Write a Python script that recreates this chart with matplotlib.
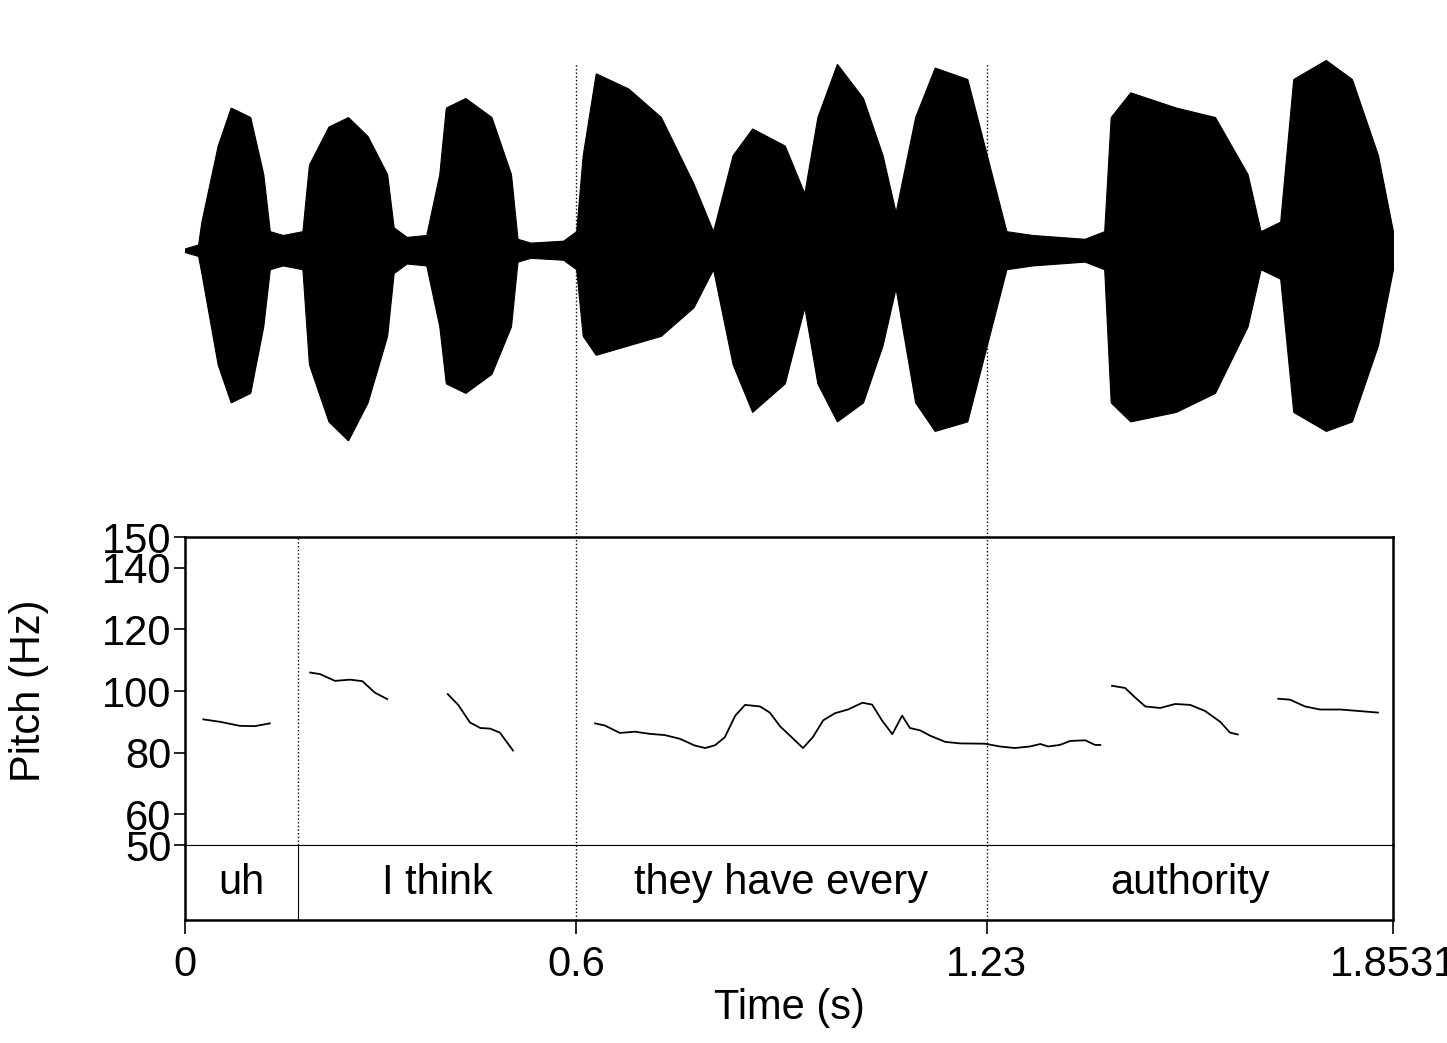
import matplotlib
matplotlib.use("Agg")
import matplotlib.pyplot as plt
import matplotlib.transforms as mtransforms
from matplotlib.lines import Line2D
import numpy as np

plt.rcParams['font.family'] = ['Liberation Sans', 'DejaVu Sans']

T_END = 1.8531
# waveform amplitude envelope (time s, upper, lower)
env_t = [0.0, 0.02, 0.025, 0.05, 0.07, 0.10, 0.12, 0.13, 0.15, 0.18, 0.19, 0.22, 0.25, 0.28, 0.31, 0.32, 0.34, 0.37, 0.39, 0.40, 0.43, 0.47, 0.50, 0.51,
         0.53, 0.58, 0.60, 0.61, 0.63, 0.68, 0.73, 0.78, 0.81, 0.84, 0.87, 0.92, 0.95, 0.97, 1.00, 1.04, 1.07, 1.09, 1.12, 1.15, 1.20, 1.23, 1.26, 1.30, 1.38, 1.41,
         1.42, 1.45, 1.52, 1.58, 1.63, 1.65, 1.68, 1.70, 1.75, 1.79, 1.83, 1.853]
env_up = [0.01, 0.03, 0.15, 0.55, 0.75, 0.7, 0.4, 0.1, 0.08, 0.1, 0.45, 0.65, 0.7, 0.6, 0.4, 0.12, 0.07, 0.08, 0.4, 0.75, 0.8, 0.7, 0.4, 0.06,
          0.04, 0.05, 0.1, 0.5, 0.93, 0.85, 0.7, 0.35, 0.1, 0.5, 0.64, 0.55, 0.3, 0.7, 0.98, 0.8, 0.5, 0.2, 0.7, 0.96, 0.9, 0.5, 0.1, 0.08, 0.06, 0.1,
          0.7, 0.83, 0.75, 0.7, 0.4, 0.1, 0.15, 0.9, 1.0, 0.9, 0.5, 0.1]
env_lo = [-0.01, -0.03, -0.12, -0.6, -0.8, -0.75, -0.4, -0.1, -0.08, -0.1, -0.6, -0.9, -1.0, -0.8, -0.45, -0.12, -0.07, -0.08, -0.4, -0.7, -0.75, -0.65, -0.4, -0.06,
          -0.04, -0.05, -0.1, -0.45, -0.55, -0.5, -0.45, -0.3, -0.1, -0.6, -0.85, -0.7, -0.3, -0.7, -0.9, -0.8, -0.5, -0.2, -0.8, -0.95, -0.9, -0.5, -0.1, -0.08, -0.06, -0.1,
          -0.8, -0.9, -0.85, -0.75, -0.4, -0.1, -0.15, -0.85, -0.95, -0.9, -0.5, -0.1]

# pitch contour segments (time s, Hz)
pitch_segments = [
    ([0.028, 0.054, 0.084, 0.107, 0.130], [90.8, 90.0, 88.7, 88.6, 89.5]),
    ([0.192, 0.207, 0.230, 0.253, 0.272, 0.291, 0.310], [106.0, 105.5, 103.3, 103.7, 103.2, 99.5, 97.4]),
    ([0.403, 0.419, 0.437, 0.453, 0.468, 0.483, 0.503], [99.0, 95.5, 89.8, 88.0, 87.8, 86.5, 80.7]),
    ([0.629, 0.644, 0.667, 0.690, 0.713, 0.736, 0.759, 0.782, 0.798, 0.813, 0.828, 0.844, 0.859, 0.882, 0.897, 0.913,
      0.928, 0.948, 0.963, 0.979, 0.997, 1.017, 1.039, 1.054, 1.069, 1.085, 1.100, 1.112, 1.128, 1.143, 1.166, 1.189,
      1.227, 1.250, 1.273, 1.296, 1.312, 1.324, 1.342, 1.358, 1.381, 1.396, 1.404],
     [89.5, 88.8, 86.4, 86.8, 86.1, 85.7, 84.5, 82.3, 81.5, 82.4, 85.0, 92.0, 95.5, 95.0, 93.0, 88.5,
      85.5, 81.5, 85.0, 90.5, 92.8, 94.0, 96.2, 95.6, 90.5, 86.0, 92.0, 88.0, 87.2, 85.5, 83.5, 83.0,
      82.9, 82.0, 81.5, 82.0, 82.8, 82.0, 82.5, 83.8, 84.0, 82.5, 82.5]),
    ([1.422, 1.442, 1.457, 1.473, 1.496, 1.519, 1.542, 1.565, 1.588, 1.603, 1.615],
     [101.7, 101.0, 98.0, 95.0, 94.5, 95.8, 95.5, 93.5, 90.0, 86.5, 85.9]),
    ([1.677, 1.695, 1.718, 1.741, 1.772, 1.802, 1.830], [97.5, 97.2, 95.0, 94.0, 94.0, 93.5, 93.0]),
]

tier_bounds = [0.0, 0.1727, 0.6, 1.23, T_END]
tier_labels = ["uh", "I think", "they have every", "authority"]
pitch_ticks = [50, 60, 80, 100, 120, 140, 150]
time_ticks = [0, 0.6, 1.23, 1.8531]
time_labels = ["0", "0.6", "1.23", "1.8531"]

fig = plt.figure(figsize=(14.47, 10.43), dpi=100)
L, W = 0.1279, 0.8348
FS = 30

axw = fig.add_axes([L, 0.5686, W, 0.3739])
tt = np.linspace(0, T_END, 3000)
up = np.interp(tt, env_t, env_up)
lo = np.interp(tt, env_t, env_lo)
axw.fill_between(tt, lo, up, color='black', linewidth=0.8)
axw.set_xlim(0, T_END)
axw.set_ylim(-1.05, 1.0)
axw.axis('off')

axp = fig.add_axes([L, 0.1898, W, 0.2953])
for ts, hz in pitch_segments:
    axp.plot(ts, hz, color='black', linewidth=1.3)
axp.set_xlim(0, T_END)
axp.set_ylim(50, 150)
axp.set_yticks(pitch_ticks)
axp.set_yticklabels([str(v) for v in pitch_ticks], fontsize=FS)
axp.set_xticks([])
axp.set_ylabel("Pitch (Hz)", fontsize=FS, labelpad=38)
axp.tick_params(axis='y', length=8, width=1.2, pad=2)
for s in axp.spines.values():
    s.set_linewidth(1.8)
axp.spines['bottom'].set_linewidth(0.8)
axp.axvline(0.1727, color='black', linestyle=':', linewidth=1)

# long dotted boundary lines spanning waveform, pitch and tier
trans = mtransforms.blended_transform_factory(axp.transData, fig.transFigure)
for b in [0.6, 1.23]:
    fig.add_artist(Line2D([b, b], [0.1179, 0.94], transform=trans, color='black',
                          linestyle=':', linewidth=1))

axt = fig.add_axes([L, 0.1179, W, 0.0719])
axt.set_xlim(0, T_END)
axt.set_ylim(0, 1)
axt.set_yticks([])
axt.axvline(0.1727, color='black', linewidth=0.8)
for i, lab in enumerate(tier_labels):
    axt.text((tier_bounds[i] + tier_bounds[i + 1]) / 2, 0.5, lab, ha='center', va='center', fontsize=FS)
axt.set_xticks(time_ticks)
axt.set_xticklabels(time_labels, fontsize=FS)
axt.tick_params(axis='x', length=10, width=1.2, pad=8)
for s in axt.spines.values():
    s.set_linewidth(1.8)
axt.spines['top'].set_linewidth(0.8)
axt.set_xlabel("Time (s)", fontsize=FS, labelpad=2)

fig.savefig("out.png", dpi=100)
